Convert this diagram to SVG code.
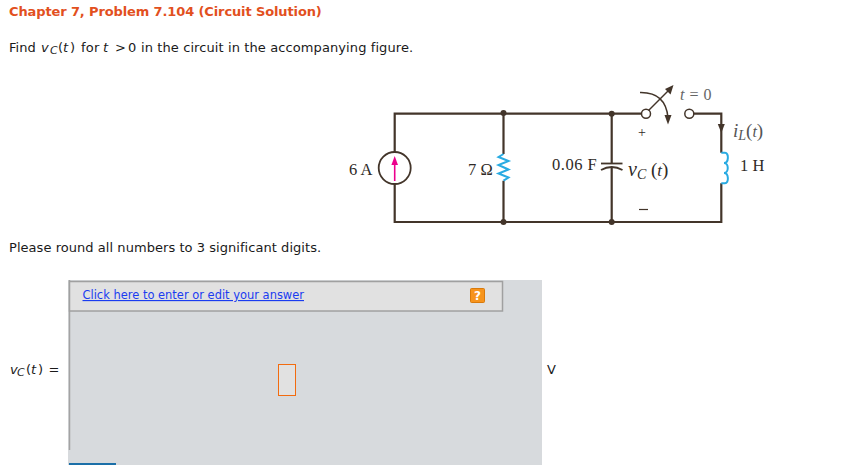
<svg xmlns="http://www.w3.org/2000/svg" width="842" height="475" viewBox="0 0 842 475">
<style>
.t{font-family:"DejaVu Sans","Liberation Sans",sans-serif;font-size:13px;fill:#1a1a1a}
.h{font-family:"DejaVu Sans","Liberation Sans",sans-serif;font-size:13px;font-weight:bold;fill:#e2501e;letter-spacing:-.12px}
.i{font-style:italic}
.sub{font-size:11px}
.c{font-family:"Liberation Serif",serif;font-size:16.500px;fill:#2e2a26}
.w{fill:none;stroke:#43352a;stroke-width:2.200}
.thin{fill:none;stroke:#43352a;stroke-width:1.500}
.b{fill:none;stroke:#29abe2;stroke-width:2}
.n{fill:#43352a}
</style>
<rect width="842" height="475" fill="#ffffff"/>
<g id="heading"><text class="h" x="9" y="16">Chapter 7, Problem 7.104 (Circuit Solution)</text></g>
<g id="question"><text class="t" x="9" y="52">Find <tspan class="i" x="41">v</tspan><tspan class="i sub" dy="2" x="50">C</tspan><tspan dy="-2" x="58">(</tspan><tspan class="i" x="63">t</tspan><tspan x="70">)</tspan><tspan x="81" letter-spacing=".2">for</tspan> <tspan class="i" x="103">t</tspan><tspan x="115">&gt;</tspan><tspan x="128">0</tspan><tspan x="141" letter-spacing=".1">in the circuit in the accompanying figure.</tspan></text></g>
<g id="round-note"><text class="t" x="9" y="252" letter-spacing=".05">Please round all numbers to 3 significant digits.</text></g>

<g id="connectors">
<path class="w" d="M394.700 152V113.700H641.500M693.800 113.700H721.300V152.700M721.300 183.300V222H394.700V184"/>
<path class="w" d="M503.500 113.700V154M503.500 180.700V222"/>
<path class="w" d="M611.700 113.700V163M611.700 168V222"/>
</g>

<g id="source-6A">
<circle cx="394.700" cy="168" r="16" fill="#fff" stroke="#43352a" stroke-width="1.800"/>
<path d="M394.700 181V160" stroke="#ec008c" stroke-width="1.600" fill="none"/>
<path d="M394.700 156L398 165H391.400Z" fill="#ec008c"/>
<text class="c" x="349" y="175">6 A</text>
</g>
<g id="resistor-7">
<path class="b" d="M503.500 154L498.500 157L508.500 161L498.500 165L508.500 169.500L498.500 173.500L508.500 177.500L503.500 180.700"/>
<text class="c" x="468" y="175">7 Ω</text>
<circle class="n" cx="503.500" cy="113" r="3"/>
<circle class="n" cx="503.500" cy="222" r="3"/>
</g>
<g id="capacitor">
<path class="w" d="M601 163.500H622.500" style="stroke-width:1.800"/>
<path class="w" d="M601 170Q611.700 164 622.500 170" style="stroke-width:1.800"/>
<text class="c" x="552" y="170" style="font-size:16.500px" letter-spacing=".5">0.06 F</text>
<text class="c" x="628" y="176"><tspan class="i" style="font-size:20px">v</tspan><tspan class="i" style="font-size:14px" dy="3">C</tspan><tspan style="font-size:19px" dy="-3"> (</tspan><tspan class="i" style="font-size:17px">t</tspan><tspan style="font-size:19px">)</tspan></text>
<text class="c" x="638" y="137" style="font-size:14px">+</text>
<path d="M639 209.500H648" stroke="#43352a" stroke-width="1.200"/>
<circle class="n" cx="611.700" cy="113.700" r="3"/>
<circle class="n" cx="611.700" cy="222" r="3"/>
</g>
<g id="switch">
<circle cx="646" cy="113.700" r="4.500" fill="#fff" stroke="#43352a" stroke-width="1.500"/>
<circle cx="689.300" cy="113.700" r="4.500" fill="#fff" stroke="#43352a" stroke-width="1.500"/>
<path class="thin" d="M648.500 110.500L669 90"/>
<path class="n" d="M673.500 85L670.500 94.500L665 89Z"/>
<path class="thin" d="M640 92.500Q666 92 668 118"/>
<path class="n" d="M668 124.500L664.500 115H671.500Z"/>
<text class="c" x="680" y="100" style="font-size:16px;fill:#666" letter-spacing=".5"><tspan class="i">t</tspan> = 0</text>
</g>
<g id="inductor">
<path class="b" d="M721.300 152.700H725C729 152.700 729 163 724 163C729 163 729 173 724 173C729 173 729 183.300 725 183.300H721.300"/>
<path class="n" d="M721.300 133L717.800 124H724.800Z"/>
<text class="c" x="733" y="137" style="fill:#555"><tspan class="i" style="font-size:19px">i</tspan><tspan class="i" style="font-size:14px" dy="3">L</tspan><tspan style="font-size:19px" dy="-3">(</tspan><tspan class="i" style="font-size:16px">t</tspan><tspan style="font-size:19px">)</tspan></text>
<text class="c" x="740" y="171">1 H</text>
</g>

<g id="answer-panel">
<rect x="68" y="280" width="474" height="185" fill="#d7dadd"/>
<path d="M69.500 280V450" stroke="#a3a3a3" stroke-width="1.500" fill="none"/>
<rect x="69.500" y="281.500" width="433" height="29.500" fill="#e1e1e1" stroke="#a0a0a0" stroke-width="1.500"/>
<text x="82.500" y="299" font-family="DejaVu Sans, Liberation Sans, sans-serif" font-size="11.500" fill="#1a3cf0" text-decoration="underline" textLength="221.500" lengthAdjust="spacingAndGlyphs">Click here to enter or edit your answer</text>
<rect x="470.500" y="288.500" width="14" height="14" rx="1" fill="#f7941d" stroke="#d97a0b"/>
<text x="477.500" y="300" font-family="DejaVu Sans, Liberation Sans, sans-serif" font-size="12" font-weight="bold" fill="#fff" text-anchor="middle">?</text>
<rect x="278.500" y="364.500" width="17" height="31" fill="#e1e1e1" stroke="#f26b0f" stroke-width="1"/>
<rect x="69" y="463" width="47" height="2" fill="#1b6fa8"/>
</g>
<g id="answer-labels">
<text class="t" x="9" y="374"><tspan class="i" x="10">v</tspan><tspan class="i sub" dy="2" x="17">C</tspan><tspan dy="-2" x="26">(</tspan><tspan class="i" x="31">t</tspan><tspan x="38">)</tspan><tspan x="48.500">=</tspan></text>
<text class="t" x="547" y="374">V</text>
</g>
</svg>
